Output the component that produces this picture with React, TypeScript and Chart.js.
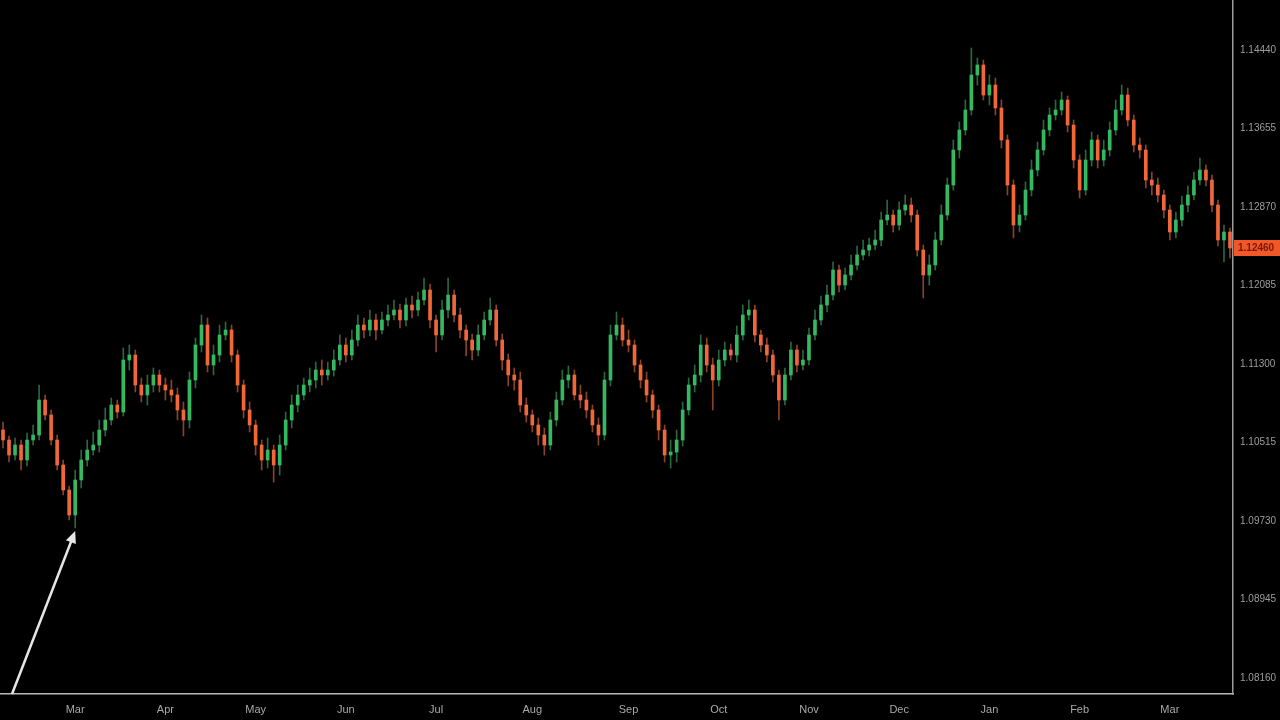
import React, { useEffect, useRef } from "react";
import { Chart, registerables } from "chart.js";

Chart.register(...registerables);

// ---- Data (price per candle) ----
const OPENS = [
  1.1064, 1.1054, 1.1039, 1.1049, 1.1034, 1.1054, 1.1059, 1.1094, 1.1079, 1.1054,
  1.1029, 1.1004, 1.0979, 1.1014, 1.1034, 1.1044, 1.1049, 1.1064, 1.1074, 1.1089,
  1.1082, 1.1134, 1.1139, 1.1109, 1.1099, 1.1109, 1.1119, 1.1109, 1.1104, 1.1099,
  1.1084, 1.1074, 1.1114, 1.1149, 1.1169, 1.1129, 1.1139, 1.1159, 1.1164, 1.1139,
  1.1109, 1.1084, 1.1069, 1.1049, 1.1034, 1.1044, 1.1029, 1.1049, 1.1074, 1.1089,
  1.1099, 1.1109, 1.1114, 1.1124, 1.1119, 1.1124, 1.1134, 1.1149, 1.1139, 1.1154,
  1.1169, 1.1164, 1.1174, 1.1164, 1.1174, 1.1179, 1.1184, 1.1174, 1.1189, 1.1184,
  1.1194, 1.1204, 1.1174, 1.1159, 1.1184, 1.1199, 1.1179, 1.1164, 1.1154, 1.1144,
  1.1159, 1.1174, 1.1184, 1.1154, 1.1134, 1.1119, 1.1114, 1.1089, 1.1079, 1.1069,
  1.1059, 1.1049, 1.1074, 1.1094, 1.1114, 1.1119, 1.1099, 1.1094, 1.1084, 1.1069,
  1.1059, 1.1114, 1.1159, 1.1169, 1.1154, 1.1149, 1.1129, 1.1114, 1.1099, 1.1084,
  1.1064, 1.1039, 1.1042, 1.1054, 1.1084, 1.1109, 1.1119, 1.1149, 1.1129, 1.1114,
  1.1134, 1.1144, 1.1139, 1.1159, 1.1179, 1.1184, 1.1159, 1.1149, 1.1139, 1.1119,
  1.1094, 1.1119, 1.1144, 1.1129, 1.1134, 1.1159, 1.1174, 1.1189, 1.1199, 1.1224,
  1.1209, 1.1219, 1.1229, 1.1239, 1.1244, 1.1249, 1.1254, 1.1274, 1.1279, 1.1269,
  1.1284, 1.1289, 1.1279, 1.1244, 1.1219, 1.1229, 1.1254, 1.1279, 1.1309, 1.1344,
  1.1364, 1.1384, 1.1419, 1.1429, 1.1399, 1.1409, 1.1386, 1.1354, 1.1309, 1.1269,
  1.1279, 1.1304, 1.1324, 1.1344, 1.1364, 1.1379, 1.1384, 1.1394, 1.1369, 1.1334,
  1.1304, 1.1334, 1.1354, 1.1334, 1.1344, 1.1364, 1.1384, 1.1399, 1.1374, 1.1349,
  1.1344, 1.1314, 1.1309, 1.1299, 1.1284, 1.1262, 1.1274, 1.1289, 1.1299, 1.1314,
  1.1324, 1.1314, 1.1289, 1.1254, 1.1262,
];

const CLOSES = [
  1.1054, 1.1039, 1.1049, 1.1034, 1.1054, 1.1059, 1.1094, 1.1079, 1.1054, 1.1029,
  1.1004, 1.0979, 1.1014, 1.1034, 1.1044, 1.1049, 1.1064, 1.1074, 1.1089, 1.1082,
  1.1134, 1.1139, 1.1109, 1.1099, 1.1109, 1.1119, 1.1109, 1.1104, 1.1099, 1.1084,
  1.1074, 1.1114, 1.1149, 1.1169, 1.1129, 1.1139, 1.1159, 1.1164, 1.1139, 1.1109,
  1.1084, 1.1069, 1.1049, 1.1034, 1.1044, 1.1029, 1.1049, 1.1074, 1.1089, 1.1099,
  1.1109, 1.1114, 1.1124, 1.1119, 1.1124, 1.1134, 1.1149, 1.1139, 1.1154, 1.1169,
  1.1164, 1.1174, 1.1164, 1.1174, 1.1179, 1.1184, 1.1174, 1.1189, 1.1184, 1.1194,
  1.1204, 1.1174, 1.1159, 1.1184, 1.1199, 1.1179, 1.1164, 1.1154, 1.1144, 1.1159,
  1.1174, 1.1184, 1.1154, 1.1134, 1.1119, 1.1114, 1.1089, 1.1079, 1.1069, 1.1059,
  1.1049, 1.1074, 1.1094, 1.1114, 1.1119, 1.1099, 1.1094, 1.1084, 1.1069, 1.1059,
  1.1114, 1.1159, 1.1169, 1.1154, 1.1149, 1.1129, 1.1114, 1.1099, 1.1084, 1.1064,
  1.1039, 1.1042, 1.1054, 1.1084, 1.1109, 1.1119, 1.1149, 1.1129, 1.1114, 1.1134,
  1.1144, 1.1139, 1.1159, 1.1179, 1.1184, 1.1159, 1.1149, 1.1139, 1.1119, 1.1094,
  1.1119, 1.1144, 1.1129, 1.1134, 1.1159, 1.1174, 1.1189, 1.1199, 1.1224, 1.1209,
  1.1219, 1.1229, 1.1239, 1.1244, 1.1249, 1.1254, 1.1274, 1.1279, 1.1269, 1.1284,
  1.1289, 1.1279, 1.1244, 1.1219, 1.1229, 1.1254, 1.1279, 1.1309, 1.1344, 1.1364,
  1.1384, 1.1419, 1.1429, 1.1399, 1.1409, 1.1386, 1.1354, 1.1309, 1.1269, 1.1279,
  1.1304, 1.1324, 1.1344, 1.1364, 1.1379, 1.1384, 1.1394, 1.1369, 1.1334, 1.1304,
  1.1334, 1.1354, 1.1334, 1.1344, 1.1364, 1.1384, 1.1399, 1.1374, 1.1349, 1.1344,
  1.1314, 1.1309, 1.1299, 1.1284, 1.1262, 1.1274, 1.1289, 1.1299, 1.1314, 1.1324,
  1.1314, 1.1289, 1.1254, 1.1262, 1.1246,
];

const HIGHS = [
  1.1072, 1.1058, 1.1056, 1.1054, 1.1061, 1.1069, 1.1109, 1.1099, 1.1084, 1.1059,
  1.1034, 1.1008, 1.1024, 1.1044, 1.1054, 1.1062, 1.1074, 1.1086, 1.1096, 1.1094,
  1.1146, 1.1149, 1.1144, 1.1116, 1.1119, 1.1126, 1.1124, 1.1116, 1.1114, 1.1106,
  1.1092, 1.1122, 1.1156, 1.1179, 1.1176, 1.1149, 1.1169, 1.1172, 1.1169, 1.1144,
  1.1114, 1.1092, 1.1074, 1.1054, 1.1056, 1.1049, 1.1059, 1.1082, 1.1099, 1.1109,
  1.1116, 1.1126, 1.1132, 1.1134, 1.1132, 1.1144, 1.1159, 1.1156, 1.1164, 1.1179,
  1.1176, 1.1184, 1.1180, 1.1182, 1.1189, 1.1194, 1.1190, 1.1196, 1.1198, 1.1202,
  1.1216, 1.1210, 1.1179, 1.1194, 1.1216, 1.1204, 1.1186, 1.1169, 1.1160, 1.1169,
  1.1182, 1.1196, 1.1189, 1.1160, 1.1140, 1.1126, 1.1122, 1.1096, 1.1084, 1.1076,
  1.1066, 1.1082, 1.1102, 1.1124, 1.1128, 1.1124, 1.1109, 1.1102, 1.1089, 1.1076,
  1.1122, 1.1169, 1.1182, 1.1176, 1.1164, 1.1154, 1.1134, 1.1122, 1.1104, 1.1089,
  1.1069, 1.1054, 1.1064, 1.1092, 1.1116, 1.1129, 1.1159, 1.1156, 1.1136, 1.1144,
  1.1152, 1.1150, 1.1168, 1.1189, 1.1194, 1.1189, 1.1164, 1.1156, 1.1144, 1.1124,
  1.1126, 1.1152, 1.1149, 1.1144, 1.1166, 1.1184, 1.1198, 1.1209, 1.1232, 1.1229,
  1.1226, 1.1239, 1.1248, 1.1254, 1.1256, 1.1264, 1.1282, 1.1294, 1.1284, 1.1292,
  1.1299, 1.1296, 1.1284, 1.1249, 1.1239, 1.1262, 1.1289, 1.1316, 1.1354, 1.1372,
  1.1394, 1.1446, 1.1436, 1.1434, 1.1419, 1.1416, 1.1394, 1.1359, 1.1314, 1.1289,
  1.1312, 1.1334, 1.1352, 1.1374, 1.1386, 1.1394, 1.1402, 1.1398, 1.1374, 1.1339,
  1.1344, 1.1362, 1.1359, 1.1354, 1.1372, 1.1394, 1.1409, 1.1406, 1.1379, 1.1356,
  1.1349, 1.1322, 1.1316, 1.1304, 1.1289, 1.1282, 1.1298, 1.1308, 1.1322, 1.1336,
  1.1329, 1.1319, 1.1294, 1.1269, 1.1266,
];

const LOWS = [
  1.1046, 1.1032, 1.1034, 1.1024, 1.1028, 1.1049, 1.1054, 1.1074, 1.1049, 1.1024,
  1.0999, 1.0974, 1.0966, 1.1006, 1.1028, 1.1039, 1.1042, 1.1058, 1.1069, 1.1076,
  1.1078, 1.1124, 1.1102, 1.1092, 1.1089, 1.1102, 1.1102, 1.1094, 1.1092, 1.1074,
  1.1058, 1.1066, 1.1106, 1.1142, 1.1122, 1.1119, 1.1132, 1.1154, 1.1132, 1.1102,
  1.1076, 1.1062, 1.1039, 1.1024, 1.1026, 1.1012, 1.1019, 1.1044, 1.1066, 1.1082,
  1.1094, 1.1102, 1.1106, 1.1109, 1.1114, 1.1118, 1.1129, 1.1132, 1.1134, 1.1148,
  1.1156, 1.1158, 1.1154, 1.1160, 1.1168, 1.1174, 1.1166, 1.1168, 1.1176, 1.1178,
  1.1189, 1.1166, 1.1142, 1.1154, 1.1176, 1.1172, 1.1156, 1.1138, 1.1134, 1.1138,
  1.1154, 1.1169, 1.1148, 1.1124, 1.1108, 1.1104, 1.1082, 1.1072, 1.1062, 1.1049,
  1.1039, 1.1044, 1.1068, 1.1089, 1.1106, 1.1094, 1.1086, 1.1076, 1.1062, 1.1049,
  1.1054, 1.1108, 1.1154, 1.1148, 1.1142, 1.1122, 1.1106, 1.1092, 1.1076, 1.1054,
  1.1032, 1.1026, 1.1032, 1.1048, 1.1079, 1.1102, 1.1112, 1.1122, 1.1084, 1.1108,
  1.1128, 1.1134, 1.1132, 1.1154, 1.1174, 1.1152, 1.1142, 1.1132, 1.1112, 1.1074,
  1.1089, 1.1114, 1.1122, 1.1124, 1.1129, 1.1154, 1.1169, 1.1182, 1.1194, 1.1202,
  1.1204, 1.1214, 1.1224, 1.1234, 1.1238, 1.1244, 1.1248, 1.1269, 1.1262, 1.1264,
  1.1279, 1.1272, 1.1238, 1.1196, 1.1209, 1.1224, 1.1249, 1.1274, 1.1304, 1.1336,
  1.1359, 1.1379, 1.1409, 1.1394, 1.1389, 1.1379, 1.1346, 1.1299, 1.1256, 1.1262,
  1.1274, 1.1298, 1.1318, 1.1339, 1.1358, 1.1374, 1.1379, 1.1362, 1.1326, 1.1296,
  1.1299, 1.1328, 1.1326, 1.1328, 1.1338, 1.1359, 1.1379, 1.1368, 1.1342, 1.1336,
  1.1306, 1.1299, 1.1292, 1.1276, 1.1254, 1.1256, 1.1268, 1.1282, 1.1294, 1.1309,
  1.1308, 1.1282, 1.1248, 1.1232, 1.1236,
];

// axis ticks
const PRICE_TICKS = [1.0816, 1.08945, 1.0973, 1.10515, 1.113, 1.12085, 1.1287, 1.13655, 1.1444];
const PRICE_MIN = 1.08;
const PRICE_MAX = 1.1494;
const MONTH_TICK_INDEX = [12, 27, 42, 57, 72, 88, 104, 119, 134, 149, 164, 179, 194];
const MONTH_LABELS = ["Mar", "Apr", "May", "Jun", "Jul", "Aug", "Sep", "Oct", "Nov", "Dec", "Jan", "Feb", "Mar"];

// arrow annotation: tail (candle index, price)
const ARROW_TAIL_INDEX = 1.5;
const ARROW_TAIL_PRICE = 1.08;

const UP = "#34b862";
const DOWN = "#f2673a";
const UP_WICK = "rgba(70,170,105,0.6)";
const DOWN_WICK = "rgba(230,110,70,0.6)";

const overlayPlugin = {
  id: "overlay",
  afterDraw(chart: any) {
    const { ctx, scales } = chart;
    const xs = scales.x;
    const ys = scales.y;
    // Arrow pointing to the lowest low
    let minIdx = 0;
    for (let i = 1; i < LOWS.length; i++) if (LOWS[i] < LOWS[minIdx]) minIdx = i;
    const x0 = xs.getPixelForValue(ARROW_TAIL_INDEX);
    const y0 = ys.getPixelForValue(ARROW_TAIL_PRICE);
    const x1 = xs.getPixelForValue(minIdx);
    const y1 = ys.getPixelForValue(LOWS[minIdx]) + 3;
    const ang = Math.atan2(y1 - y0, x1 - x0);
    const head = 13;
    ctx.save();
    ctx.strokeStyle = "#e6e6e6";
    ctx.fillStyle = "#e6e6e6";
    ctx.lineWidth = 2.5;
    ctx.beginPath();
    ctx.moveTo(x0, y0);
    ctx.lineTo(x1 - Math.cos(ang) * head * 0.8, y1 - Math.sin(ang) * head * 0.8);
    ctx.stroke();
    ctx.beginPath();
    ctx.moveTo(x1, y1);
    ctx.lineTo(x1 - head * Math.cos(ang - 0.42), y1 - head * Math.sin(ang - 0.42));
    ctx.lineTo(x1 - head * Math.cos(ang + 0.42), y1 - head * Math.sin(ang + 0.42));
    ctx.closePath();
    ctx.fill();

    // Current price label
    const last = CLOSES[CLOSES.length - 1];
    const py = ys.getPixelForValue(last);
    const left = chart.chartArea.right + 1;
    ctx.fillStyle = "#f0582a";
    ctx.fillRect(left, py - 8, chart.width - left, 16);
    ctx.fillStyle = "#7a1805";
    ctx.font = "bold 10px 'Liberation Sans', Arial, sans-serif";
    ctx.textBaseline = "middle";
    ctx.textAlign = "left";
    ctx.fillText(last.toFixed(5), left + 4, py + 0.5);
    ctx.restore();
  },
};

export default function App() {
  const ref = useRef<HTMLCanvasElement | null>(null);
  useEffect(() => {
    if (!ref.current) return;
    const colors = CLOSES.map((c, i) => (c >= OPENS[i] ? UP : DOWN));
    const wickColors = CLOSES.map((c, i) => (c >= OPENS[i] ? UP_WICK : DOWN_WICK));
    const chart = new Chart(ref.current, {
      type: "bar",
      data: {
        datasets: [
          {
            label: "body",
            data: OPENS.map((o, i) => ({ x: i, y: [o, CLOSES[i]] })) as any,
            backgroundColor: colors,
            barThickness: 3,
            grouped: false,
            borderWidth: 0,
          } as any,
          {
            label: "wick",
            data: LOWS.map((l, i) => ({ x: i, y: [l, HIGHS[i]] })) as any,
            backgroundColor: wickColors,
            barThickness: 1,
            grouped: false,
            borderWidth: 0,
          } as any,
        ],
      },
      options: {
        animation: false,
        responsive: true,
        maintainAspectRatio: false,
        layout: { padding: 0 },
        plugins: { legend: { display: false }, tooltip: { enabled: false } },
        scales: {
          x: {
            type: "linear",
            offset: false,
            min: -0.5,
            max: OPENS.length - 0.5,
            grid: { display: false, drawTicks: false, tickLength: 0 },
            border: { display: true, color: "#b8b8b8", width: 1.5 },
            afterBuildTicks: (scale: any) => {
              scale.ticks = MONTH_TICK_INDEX.map((v) => ({ value: v }));
            },
            afterFit: (scale: any) => {
              scale.height = 26;
              scale.paddingLeft = 0;
              scale.paddingRight = 0;
            },
            ticks: {
              autoSkip: false,
              maxRotation: 0,
              padding: 9,
              color: "#a8a8a8",
              font: { family: "'Liberation Sans', Arial, sans-serif", size: 11 },
              callback: (_v: any, idx: number) => MONTH_LABELS[idx],
            },
          },
          y: {
            type: "linear",
            position: "right",
            min: PRICE_MIN,
            max: PRICE_MAX,
            grid: { display: false, drawTicks: false, tickLength: 0 },
            border: { display: true, color: "#9a9a9a", width: 1.5 },
            afterBuildTicks: (scale: any) => {
              scale.ticks = PRICE_TICKS.map((v) => ({ value: v }));
            },
            afterFit: (scale: any) => {
              scale.width = 47;
              scale.paddingTop = 0;
              scale.paddingBottom = 0;
            },
            ticks: {
              padding: 7,
              color: "#9c9c9c",
              font: { family: "'Liberation Sans', Arial, sans-serif", size: 10 },
              callback: (v: any) => Number(v).toFixed(5),
            },
          },
        },
      } as any,
      plugins: [overlayPlugin],
    });
    return () => chart.destroy();
  }, []);

  return (
    <div style={{ position: "fixed", left: 0, top: 0, width: 1280, height: 720, background: "#000" }}>
      <canvas ref={ref} />
    </div>
  );
}
